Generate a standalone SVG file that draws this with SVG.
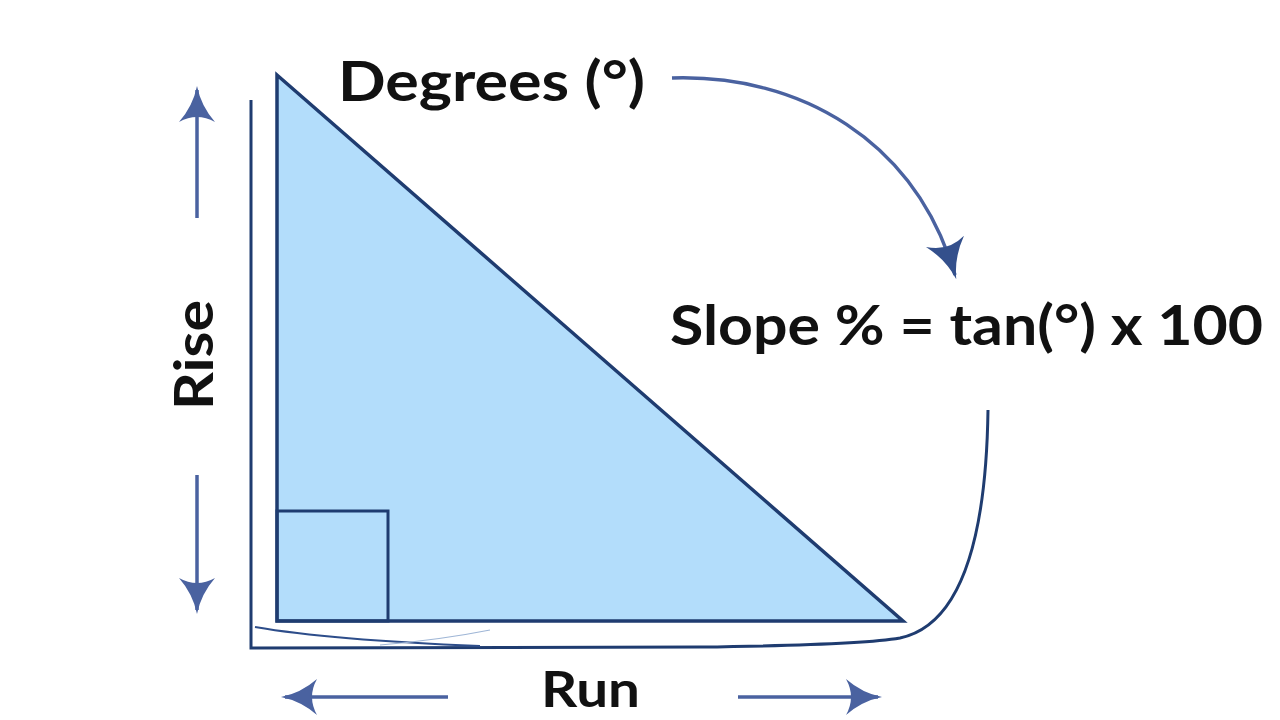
<svg xmlns="http://www.w3.org/2000/svg" width="1280" height="720" viewBox="0 0 1280 720">
<defs>
<style>
.lbl{font-family:Lato,"Liberation Sans",sans-serif;font-weight:700;fill:#111;}
.arr{stroke:#4a62a0;stroke-width:3.5;fill:none;}
.edge{stroke:#1f3c70;fill:none;}
</style>
<marker id="ah2" viewBox="0 0 20 20" refX="16" refY="10" markerWidth="40" markerHeight="40" markerUnits="userSpaceOnUse" orient="auto">
<path d="M0,1 Q8,8 18,10 Q8,12 0,19 Q5,10 0,1 Z" fill="#4a62a0"/>
</marker>
<marker id="ah3" viewBox="0 0 20 20" refX="16" refY="10" markerWidth="44" markerHeight="44" markerUnits="userSpaceOnUse" orient="auto">
<path d="M0,1 Q8,8 18,10 Q8,12 0,19 Q5,10 0,1 Z" fill="#34508c"/>
</marker>
</defs>
<rect width="1280" height="720" fill="#fff"/>
<g id="frame">
<path class="edge" d="M251,100 L251,648 L700,647 Q860,645 900,638 Q985,620 988,410" stroke-width="3"/>
<path d="M255,627 Q330,640 480,646" stroke="#2d4d8a" stroke-width="2" fill="none"/>
<path d="M380,645 Q440,640 490,630" stroke="#9fb6d6" stroke-width="1.2" fill="none"/>
</g>
<g id="triangle">
<polygon points="277,75 277,621 903,621" fill="#b3ddfb" stroke="#1f3c70" stroke-width="3.5" stroke-linejoin="miter"/>
<rect x="277" y="511" width="111" height="110" fill="none" stroke="#1f3c70" stroke-width="3"/>
</g>
<g id="connectors">
<path class="arr" d="M197,218 L197,90" marker-end="url(#ah2)"/>
<path class="arr" d="M197,475 L197,610" marker-end="url(#ah2)"/>
<path class="arr" d="M448,697 L285,697" marker-end="url(#ah2)"/>
<path class="arr" d="M738,697 L878,697" marker-end="url(#ah2)"/>
<path class="arr" d="M672,78 C800,74 915,140 955,275" stroke="#34508c" stroke-width="4.5" marker-end="url(#ah3)"/>
</g>
<g id="labels">
<text class="lbl" x="338" y="101" font-size="56" textLength="307" lengthAdjust="spacingAndGlyphs">Degrees (°)</text>
<text class="lbl" x="670" y="345" font-size="56" textLength="593" lengthAdjust="spacingAndGlyphs">Slope % = tan(°) x 100</text>
<text class="lbl" x="541" y="707" font-size="50" textLength="99" lengthAdjust="spacingAndGlyphs">Run</text>
<text class="lbl" x="0" y="0" font-size="54" textLength="110" lengthAdjust="spacingAndGlyphs" transform="translate(213,410) rotate(-90)">Rise</text>
</g>
</svg>
